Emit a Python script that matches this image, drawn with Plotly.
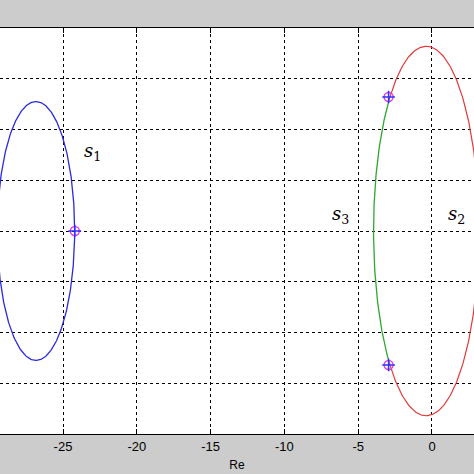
import numpy as np
import plotly.graph_objects as go

# Root-locus ellipses (centre x, centre y, semi-axis x, semi-axis y)
s1_ellipse = dict(cx=-26.83, cy=0.0, ax=2.62, ay=2.55)
s23_ellipse = dict(cx=-0.39, cy=0.0, ax=3.57, ay=3.64)
# Branch points (marked)
marker_x = [-24.2, -2.94, -2.94]
marker_y = [0.0, 2.64, -2.64]
# labels
label_text = ["<i>s</i><sub>1</sub>", "<i>s</i><sub>3</sub>", "<i>s</i><sub>2</sub>"]
label_x = [-22.97, -6.23, 1.69]
label_y = [1.55, 0.32, 0.32]
x_ticks = [-25, -20, -15, -10, -5, 0]
x_tick_text = ["-25", "-20", "-15", "-10", "-5", "0"]

def ellipse(e, t):
    return e["cx"] + e["ax"] * np.cos(t), e["cy"] + e["ay"] * np.sin(t)

fig = go.Figure()
t = np.linspace(0, 2 * np.pi, 400)
x1, y1 = ellipse(s1_ellipse, t)
fig.add_trace(go.Scatter(x=x1, y=y1, mode="lines", line=dict(color="#2a2ae0", width=1.3)))

# angle of branch point on the big ellipse
th0 = np.arctan2(marker_y[1] / s23_ellipse["ay"], (marker_x[1] - s23_ellipse["cx"]) / s23_ellipse["ax"])
tr = np.linspace(-th0, th0, 300)
xr, yr = ellipse(s23_ellipse, tr)
fig.add_trace(go.Scatter(x=xr, y=yr, mode="lines", line=dict(color="#e03a3a", width=1.2)))
tg = np.linspace(th0, 2 * np.pi - th0, 200)
xg, yg = ellipse(s23_ellipse, tg)
fig.add_trace(go.Scatter(x=xg, y=yg, mode="lines", line=dict(color="#2ea82e", width=1.3)))

fig.add_trace(go.Scatter(x=marker_x, y=marker_y, mode="markers",
                         marker=dict(symbol="circle-open", size=9, color="#e040e0", line=dict(width=1.5))))
fig.add_trace(go.Scatter(x=marker_x, y=marker_y, mode="markers",
                         marker=dict(symbol="cross-thin-open", size=9, color="#3030ff", line=dict(width=1.5, color="#3030ff"))))

for tx, xx, yy in zip(label_text, label_x, label_y):
    fig.add_annotation(x=xx, y=yy, text=tx, showarrow=False,
                       font=dict(family="DejaVu Serif", size=18, color="black"))

fig.update_layout(
    width=474, height=474, showlegend=False,
    margin=dict(l=0, r=0, t=28, b=40, autoexpand=False),
    paper_bgcolor="#cccccc", plot_bgcolor="white",
    xaxis=dict(range=[-29.268, 2.846], tickvals=x_ticks, ticktext=x_tick_text, ticks="inside", ticklen=5,
               tickcolor="black", showline=True, linecolor="black", linewidth=1, mirror="ticks",
               showgrid=True, gridcolor="black", griddash="dot", gridwidth=1, zeroline=False,
               tickfont=dict(family="Liberation Sans", size=13, color="black"),
               title=dict(text="Re", font=dict(family="Liberation Sans", size=12, color="black"), standoff=8)),
    yaxis=dict(range=[-4, 4], dtick=1, showticklabels=False, ticks="", showline=False,
               showgrid=True, gridcolor="black", griddash="dot", gridwidth=1, zeroline=False),
)
fig.write_html("out.html", config={"displayModeBar": False},
               post_script="document.body.style.margin='0';document.body.style.overflow='hidden';document.body.style.background='#cccccc';")
